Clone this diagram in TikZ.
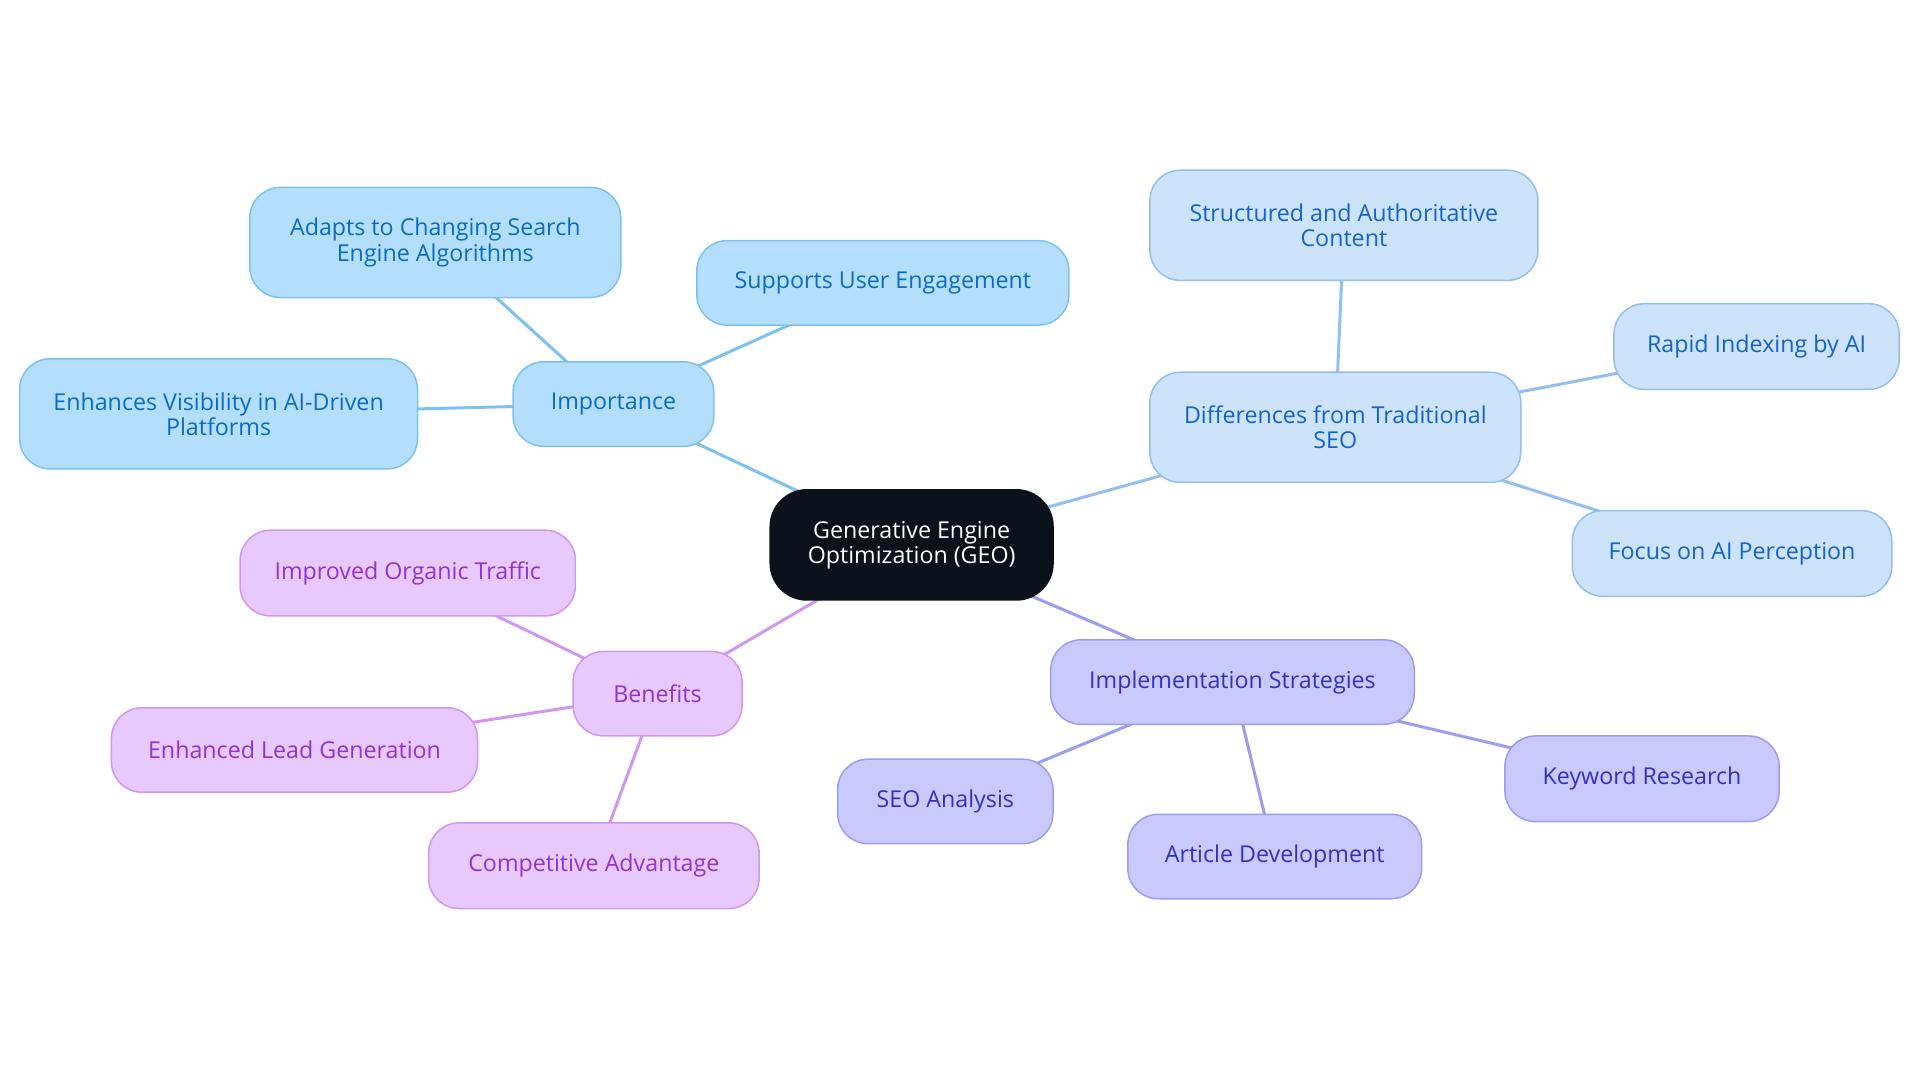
\documentclass[tikz,border=0pt]{standalone}
\usepackage{fontspec}
\setmainfont{Open Sans}
\usetikzlibrary{backgrounds}
\definecolor{rootfill}{HTML}{0B121B}
\definecolor{impfill}{HTML}{B3DFFD}
\definecolor{impline}{HTML}{7DC1F0}
\definecolor{imptext}{HTML}{0B6CC0}
\definecolor{difffill}{HTML}{CDE3FB}
\definecolor{diffline}{HTML}{92BEF0}
\definecolor{difftext}{HTML}{1463C8}
\definecolor{strfill}{HTML}{C9C9FD}
\definecolor{strline}{HTML}{9C9CF0}
\definecolor{strtext}{HTML}{3232BE}
\definecolor{benfill}{HTML}{E8C9FD}
\definecolor{benline}{HTML}{D096F0}
\definecolor{bentext}{HTML}{9132D2}
\tikzset{
  box/.style={rounded corners=0.5cm, line width=0.7pt, align=center, inner sep=0pt,
    font=\fontsize{10.8}{11.7}\selectfont},
  rootbox/.style={box, fill=rootfill, draw=rootfill, text=white, rounded corners=0.6cm},
  impbox/.style={box, fill=impfill, draw=impline, text=imptext},
  diffbox/.style={box, fill=difffill, draw=diffline, text=difftext},
  strbox/.style={box, fill=strfill, draw=strline, text=strtext},
  benbox/.style={box, fill=benfill, draw=benline, text=bentext},
  link/.style={line width=1.4pt}
}
\begin{document}
\begin{tikzpicture}[x=0.02cm, y=-0.02cm]
  \useasboundingbox (0,0) rectangle (1568,884);
  \node[rootbox, minimum width=4.62cm, minimum height=1.8cm] (geo) at (744.5,445) {Generative Engine\\Optimization (GEO)};
  \node[impbox, minimum width=3.28cm, minimum height=1.38cm] (imp) at (501,330) {Importance};
  \node[impbox, minimum width=6.06cm, minimum height=1.8cm] (adapt) at (355.5,198) {Adapts to Changing Search\\Engine Algorithms};
  \node[impbox, minimum width=6.08cm, minimum height=1.38cm] (user) at (721,231) {Supports User Engagement};
  \node[impbox, minimum width=6.5cm, minimum height=1.8cm] (vis) at (178.5,338) {Enhances Visibility in AI-Driven\\Platforms};
  \node[diffbox, minimum width=6.06cm, minimum height=1.8cm] (diff) at (1090.5,349) {Differences from Traditional\\SEO};
  \node[diffbox, minimum width=6.34cm, minimum height=1.8cm] (struct) at (1097.5,184) {Structured and Authoritative\\Content};
  \node[diffbox, minimum width=4.66cm, minimum height=1.4cm] (rapid) at (1434.5,283) {Rapid Indexing by AI};
  \node[diffbox, minimum width=5.22cm, minimum height=1.4cm] (focus) at (1414.5,452) {Focus on AI Perception};
  \node[strbox, minimum width=5.94cm, minimum height=1.38cm] (impl) at (1006.5,557) {Implementation Strategies};
  \node[strbox, minimum width=3.52cm, minimum height=1.38cm] (seo) at (772,654.5) {SEO Analysis};
  \node[strbox, minimum width=4.8cm, minimum height=1.38cm] (article) at (1041,699.5) {Article Development};
  \node[strbox, minimum width=4.48cm, minimum height=1.4cm] (keyword) at (1341,636) {Keyword Research};
  \node[benbox, minimum width=2.76cm, minimum height=1.38cm] (ben) at (537,566.5) {Benefits};
  \node[benbox, minimum width=5.48cm, minimum height=1.4cm] (organic) at (333,468) {Improved Organic Traffic};
  \node[benbox, minimum width=5.98cm, minimum height=1.38cm] (lead) at (240.5,612.5) {Enhanced Lead Generation};
  \node[benbox, minimum width=5.4cm, minimum height=1.4cm] (comp) at (485,707) {Competitive Advantage};
  \begin{scope}[on background layer]
    \draw[link, impline] (geo.center) -- (imp.center);
    \draw[link, impline] (imp.center) -- (adapt.center);
    \draw[link, impline] (imp.center) -- (user.center);
    \draw[link, impline] (imp.center) -- (vis.center);
    \draw[link, diffline] (geo.center) -- (diff.center);
    \draw[link, diffline] (diff.center) -- (struct.center);
    \draw[link, diffline] (diff.center) -- (rapid.center);
    \draw[link, diffline] (diff.center) -- (focus.center);
    \draw[link, strline] (geo.center) -- (impl.center);
    \draw[link, strline] (impl.center) -- (seo.center);
    \draw[link, strline] (impl.center) -- (article.center);
    \draw[link, strline] (impl.center) -- (keyword.center);
    \draw[link, benline] (geo.center) -- (ben.center);
    \draw[link, benline] (ben.center) -- (organic.center);
    \draw[link, benline] (ben.center) -- (lead.center);
    \draw[link, benline] (ben.center) -- (comp.center);
  \end{scope}
\end{tikzpicture}
\end{document}
